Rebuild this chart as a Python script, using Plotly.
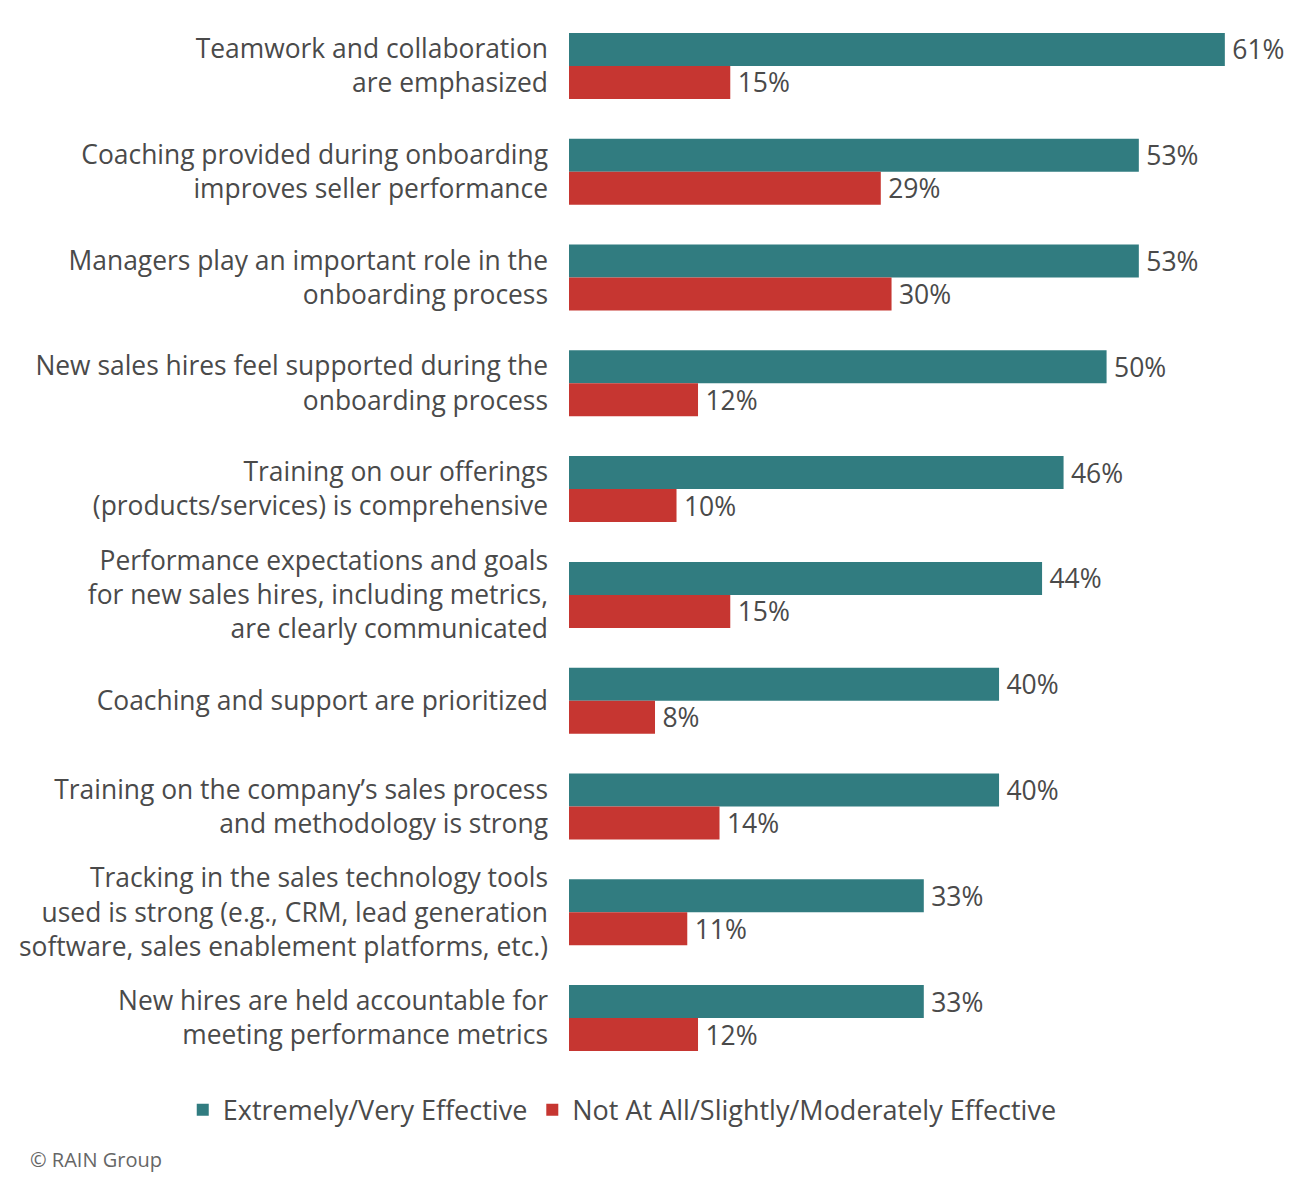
import plotly.graph_objects as go

categories = [
    "Teamwork and collaboration<br>are emphasized",
    "Coaching provided during onboarding<br>improves seller performance",
    "Managers play an important role in the<br>onboarding process",
    "New sales hires feel supported during the<br>onboarding process",
    "Training on our offerings<br>(products/services) is comprehensive",
    "Performance expectations and goals<br>for new sales hires, including metrics,<br>are clearly communicated",
    "Coaching and support are prioritized",
    "Training on the company\u2019s sales process<br>and methodology is strong",
    "Tracking in the sales technology tools<br>used is strong (e.g., CRM, lead generation<br>software, sales enablement platforms, etc.)",
    "New hires are held accountable for<br>meeting performance metrics",
]
effective = [61, 53, 53, 50, 46, 44, 40, 40, 33, 33]
not_effective = [15, 29, 30, 12, 10, 15, 8, 14, 11, 12]
series_names = ["Extremely/Very Effective", "Not At All/Slightly/Moderately Effective"]

TEAL = "#317C80"
RED = "#C63631"
TXT = "#4a4a4a"
FONT = "'Open Sans', Lato, sans-serif"
FS = 26.4

fig = go.Figure()
for name, vals, col in [(series_names[0], effective, TEAL), (series_names[1], not_effective, RED)]:
    fig.add_trace(go.Bar(
        y=categories, x=vals, name=name, orientation="h",
        marker=dict(color=col, line=dict(width=0)),
        text=[f"\u2009{v}%" for v in vals], textposition="outside",
        constraintext="none",
        textfont=dict(size=26.5, color=TXT, family=FONT),
        cliponaxis=False, hoverinfo="skip",
    ))

fig.update_layout(
    width=1300, height=1186,
    margin=dict(l=569, r=30, t=13, b=115, autoexpand=False),
    paper_bgcolor="white", plot_bgcolor="white",
    barmode="group", bargap=0.376, bargroupgap=0,
    font=dict(family=FONT, color=TXT, size=FS),
    showlegend=True,
    legend=dict(orientation="h", xref="paper", yref="paper",
                x=-0.551, xanchor="left", y=-0.037, yanchor="middle",
                font=dict(size=27, color=TXT), itemwidth=30,
                traceorder="normal"),
    xaxis=dict(range=[0, 65.2], visible=False, showgrid=False, zeroline=False),
    yaxis=dict(autorange="reversed", showgrid=False, zeroline=False, showline=False,
               ticks="", ticklabelstandoff=20, automargin=False,
               tickfont=dict(size=FS, color=TXT, family=FONT)),
    annotations=[dict(text="\u00a9 RAIN Group", xref="paper", yref="paper",
                      x=-0.772, y=-0.084, xanchor="left", yanchor="middle",
                      showarrow=False, font=dict(size=20, color="#666666", family=FONT))],
)

fig.write_html("out.html")
